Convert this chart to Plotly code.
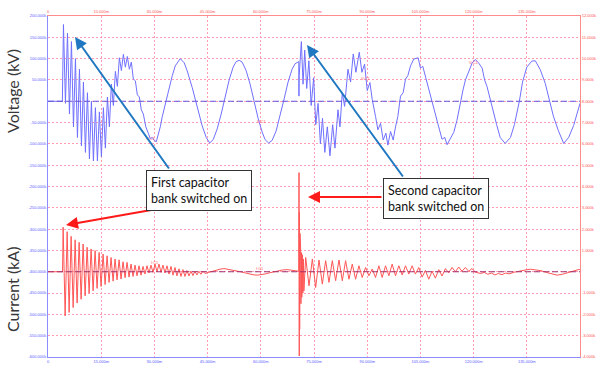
import plotly.graph_objects as go

# ---------------- data (time in ms) ----------------
V_TIME = [
    0.00, 4.05,
    4.36, 4.92, 5.49, 6.05, 6.61, 7.18, 7.74, 8.30, 8.87, 9.43,
    9.99, 10.55, 11.12, 11.68, 12.24, 12.81, 13.37, 13.93, 14.49, 15.06,
    15.62, 16.18, 16.75, 17.31, 17.87, 18.43, 19.00, 19.56, 20.12, 20.69,
    21.25, 21.81, 22.37, 22.94, 23.50, 24.06, 24.63, 25.19, 25.75, 26.31,
    26.88, 27.58, 28.28, 28.85, 29.41, 29.97, 30.53, 31.10, 31.66,
    32.22, 33.07, 34.19, 35.04, 35.88, 36.73, 37.29, 38.41, 39.26, 40.67,
    42.07, 43.48, 44.61, 45.59, 46.58, 47.70, 48.83, 49.95, 51.08, 52.20,
    53.05, 53.89, 54.74, 55.86, 56.99, 58.11, 59.24, 60.37, 61.21, 62.20,
    63.18, 64.31, 65.43, 66.56, 67.69, 68.81, 69.66, 70.70,
    70.76, 70.82, 71.44, 71.91, 72.38, 72.95, 73.55, 74.20, 74.90, 75.50,
    76.15, 76.80, 77.40, 78.05, 78.75, 79.50, 80.26, 80.91, 81.76, 82.32,
    82.97, 83.63, 84.57, 85.32, 86.07, 86.82, 87.76, 88.51, 89.26, 90.01,
    90.76, 91.42, 92.36, 93.01, 93.76, 94.51, 95.26, 95.83, 96.58, 97.33,
    97.99, 98.64, 99.39, 100.14, 100.80, 101.46, 102.21, 103.15,
    104.36, 105.01, 105.67, 106.89, 107.83, 108.77, 110.00, 111.10, 111.90, 112.50,
    113.50, 114.40, 115.30, 116.30, 117.00, 117.70, 118.60, 119.60, 120.50, 121.40,
    122.40, 123.10, 123.80, 124.70, 125.70, 126.50, 127.50, 128.90, 130.40, 131.50,
    132.90, 133.80, 135.00, 136.40, 137.40, 138.80, 140.20, 141.40, 142.50, 143.90,
    145.40, 146.80, 148.20, 150.00,
]
V_KV = [
    0, 0,
    180, -5, 160, -30, 140, -60, 100, -85, 75, -105,
    45, -120, 20, -135, 0, -140, -15, -140, -25, -130,
    -15, -110, 10, -60, 40, -10, 70, 35, 102, 72,
    110, 80, 105, 75, 92, 52, 48, 15, 10, -20,
    -30, -60, -75, -88, -85, -92, -95, -80, -60,
    -36, -5, 28, 60, 83, 95, 100, 90, 71, 32,
    -12, -58, -85, -98, -90, -65, -30, 10, 50, 80,
    93, 96, 92, 72, 40, 0, -40, -72, -90, -98,
    -92, -70, -35, 5, 45, 75, 88, 93,
    12, 60, 140, 40, 120, 30, 95, -10, 55, -55,
    -5, -100, -40, -120, -60, -128, -55, -110, -20, -60,
    20, -12, 75, 45, 111, 68, 115, 68, 87, 25,
    44, 4, -36, -67, -52, -91, -75, -103, -71, -91,
    -60, -36, 12, 20, 52, 60, 83, 99,
    102, 78, 82, 42, 10, -14, -55, -89, -85, -102,
    -85, -73, -45, 2, 26, 50, 70, 90, 98, 90,
    78, 50, 34, 2, -29, -55, -85, -99, -85, -55,
    0, 45, 80, 94, 95, 74, 42, 2, -35, -69,
    -99, -85, -57, -5,
]

I_TIME = [
    0.00, 4.10,
    4.27, 4.83, 5.40, 5.96, 6.52, 7.09, 7.65, 8.21, 8.78, 9.34,
    9.90, 10.47, 11.03, 11.59, 12.15, 12.72, 13.28, 13.84, 14.41, 14.97,
    15.53, 16.10, 16.66, 17.22, 17.78, 18.35, 18.91, 19.47, 20.04, 20.60,
    21.16, 21.73, 22.29, 22.85, 23.41, 23.98, 24.54, 25.10, 25.67, 26.23,
    26.79, 27.36, 27.92, 28.48, 29.04, 29.61, 30.17, 30.73, 31.30, 31.86,
    32.42, 32.99, 33.55, 34.11, 34.67, 35.24, 35.80, 36.36, 36.93, 37.49,
    38.05, 38.62, 39.18, 39.74, 40.30, 40.87, 41.43, 41.99, 42.56, 43.12,
    43.68, 44.25,
    45.50, 47.30, 48.50, 49.60, 50.80, 52.00, 53.20, 54.30, 55.50, 56.60,
    57.80, 59.00, 60.20, 61.30, 62.50, 63.70, 64.90, 66.00, 67.40, 68.60,
    69.70, 70.70,
    70.78, 70.84, 70.90, 70.96, 71.04, 71.12, 71.22, 71.32, 71.44, 71.56,
    71.70, 71.85, 72.00, 72.15,
    72.66, 73.60, 74.54, 75.47, 76.41, 77.35, 78.29, 79.22, 80.16, 81.10,
    82.04, 82.98, 83.91, 84.85, 85.79, 86.73, 87.67, 88.60, 89.54, 90.48,
    91.42, 92.35, 93.29, 94.23, 95.17, 96.11, 97.04, 97.98, 98.92, 99.86,
    100.79, 101.73, 102.67, 103.60, 104.54, 105.48, 106.42, 107.35, 108.30, 109.23,
    110.17, 111.11, 112.05, 112.98, 113.92, 114.86, 115.80, 116.73, 117.67, 118.61,
    119.55, 120.48,
    122.00, 123.00, 124.00, 125.00, 126.00, 127.00, 128.00, 129.00, 130.00, 131.50,
    133.00, 134.50, 136.00, 137.50, 139.00, 140.50, 142.00, 143.50, 145.00, 146.50,
    148.00, 149.50, 150.00,
]
I_KA = [
    0, 0,
    2.09, -2.07, 1.88, -1.91, 1.66, -1.68, 1.50, -1.47, 1.38, -1.29,
    1.30, -1.13, 1.15, -1.00, 1.07, -0.89, 0.99, -0.78, 0.91, -0.69,
    0.83, -0.60, 0.75, -0.50, 0.67, -0.44, 0.60, -0.38, 0.56, -0.34,
    0.47, -0.28, 0.44, -0.25, 0.36, -0.22, 0.31, -0.19, 0.28, -0.16,
    0.25, -0.11, 0.28, -0.06, 0.31, -0.03, 0.36, 0.00, 0.36, -0.03,
    0.31, -0.06, 0.28, -0.11, 0.25, -0.16, 0.20, -0.19, 0.14, -0.22,
    0.10, -0.22, 0.06, -0.20, 0.03, -0.18, 0.02, -0.15, 0.02, -0.12,
    0.03, -0.08,
    -0.02, 0.08, 0.12, 0.15, 0.12, 0.08, 0.03, 0.00, -0.05, -0.10,
    -0.14, -0.16, -0.14, -0.10, -0.05, 0.00, 0.05, 0.08, 0.10, 0.09,
    0.05, 0.02,
    4.65, -3.95, 2.80, -2.70, 1.80, -2.20, 1.20, -1.50, 0.90, -1.20,
    0.80, -1.00, 0.60, -0.90,
    0.67, -0.66, 0.60, -0.74, 0.55, -0.58, 0.52, -0.50, 0.52, -0.42,
    0.55, -0.42, 0.52, -0.35, 0.36, -0.35, 0.28, -0.27, 0.20, -0.19,
    0.13, -0.27, 0.28, -0.27, 0.28, -0.19, 0.36, -0.19, 0.28, -0.15,
    0.28, -0.11, 0.28, -0.11, 0.20, -0.25, 0.06, -0.35, 0.02, -0.30,
    0.10, -0.20, 0.15, -0.05, 0.20, 0.00, 0.22, 0.02, 0.20, 0.02,
    0.15, -0.02,
    -0.08, -0.03, -0.12, -0.06, -0.15, -0.08, -0.14, -0.06, -0.10, -0.02,
    0.04, 0.08, 0.12, 0.10, 0.05, -0.03, -0.10, -0.16, -0.12, -0.05,
    0.05, 0.10, 0.10,
]

X_TICKS = [0, 15, 30, 45, 60, 75, 90, 105, 120, 135, 150]
X_LABELS = ["0", "15.000m", "30.000m", "45.000m", "60.000m", "75.000m",
            "90.000m", "105.000m", "120.000m", "135.000m", ""]
V_TICKS = [200, 150, 100, 50, 0, -50, -100, -150, -200, -250, -300,
           -350, -400, -450, -500, -550, -600]
V_LABELS = ["200.000k", "150.000k", "100.000k", "50.000k", "", "-50.000k",
            "-100.000k", "-150.000k", "-200.000k", "-250.000k", "-300.000k",
            "-350.000k", "-400.000k", "-450.000k", "-500.000k", "-550.000k",
            "-600.000k"]
I_TICKS = [12, 11, 10, 9, 8, 7, 6, 5, 4, 3, 2, 1, 0, -1, -2, -3, -4]
I_LABELS = ["12.000k", "11.000k", "10.000k", "9.000k", "8.000k", "7.000k",
            "6.000k", "5.000k", "4.000k", "3.000k", "2.000k", "1.000k", "",
            "-1.000k", "-2.000k", "-3.000k", "-4.000k"]

assert len(V_TIME) == len(V_KV) and len(I_TIME) == len(I_KA)

# ---------------- geometry helpers (layout only) ----------------
PL, PR, PT, PB = 48, 580, 16, 357


def px(xp, yp):
    t = (xp - PL) / (PR - PL) * 150
    v = 200 - (yp - PT) / (PB - PT) * 800
    return t, v


BLUE_AX = "#8c8cff"
RED_AX = "#ff8c8c"
GRID = "#ff9db4"

fig = go.Figure()
fig.add_trace(go.Scatter(x=V_TIME, y=V_KV, mode="lines",
                         line=dict(color="#7070ff", width=1),
                         xaxis="x", yaxis="y", hoverinfo="skip"))
fig.add_trace(go.Scatter(x=I_TIME, y=I_KA, mode="lines",
                         line=dict(color="#ff5656", width=1),
                         xaxis="x2", yaxis="y2", hoverinfo="skip"))

tick_font_b = dict(family="Liberation Sans", size=4, color="#5a5aff")
tick_font_r = dict(family="Liberation Sans", size=4, color="#ff5050")

fig.update_layout(
    width=600, height=370,
    margin=dict(l=PL, r=600 - PR, t=PT, b=370 - PB, autoexpand=False),
    paper_bgcolor="white", plot_bgcolor="white",
    showlegend=False, hovermode=False,
    xaxis=dict(range=[0, 150], tickvals=X_TICKS, ticktext=X_LABELS,
               showgrid=True, gridcolor=GRID, griddash="2px,2px", gridwidth=1,
               showline=True, linecolor=BLUE_AX, linewidth=1, zeroline=False,
               ticks="", tickfont=tick_font_b, automargin=False),
    xaxis2=dict(range=[0, 150], tickvals=X_TICKS, ticktext=X_LABELS,
                overlaying="x", side="top", anchor="y",
                showgrid=False, showline=True, linecolor=RED_AX, linewidth=1,
                zeroline=False, ticks="", tickfont=tick_font_r, automargin=False),
    yaxis=dict(range=[-600, 200], tickvals=V_TICKS, ticktext=V_LABELS,
               showgrid=True, gridcolor=GRID, griddash="2px,2px", gridwidth=1,
               showline=True, linecolor=BLUE_AX, linewidth=1, zeroline=False,
               ticks="", tickfont=tick_font_b, automargin=False),
    yaxis2=dict(range=[-4, 12], tickvals=I_TICKS, ticktext=I_LABELS,
                overlaying="y", side="right", anchor="x",
                showgrid=False, showline=True, linecolor=RED_AX, linewidth=1,
                zeroline=False, ticks="", tickfont=tick_font_r, automargin=False),
)

# zero reference lines (dashed)
fig.add_shape(type="line", xref="x", yref="y", x0=0, x1=150, y0=0, y1=0,
              line=dict(color="#6655dd", width=1, dash="6px,3px"))
fig.add_shape(type="line", xref="x2", yref="y2", x0=0, x1=150, y0=0, y1=0,
              line=dict(color="#a03070", width=1, dash="6px,3px"))

annotations = []
# axis titles
for (ttl, cy) in [("Voltage (kV)", 91), ("Current (kA)", 290)]:
    annotations.append(dict(text=ttl, xref="paper", yref="paper",
                            x=(12 - PL) / (PR - PL), y=1 - (cy - PT) / (PB - PT),
                            xanchor="center", yanchor="middle",
                            textangle=-90, showarrow=False,
                            font=dict(family="Lato", size=16, color="#383838")))

# small trace labels
for (lx, ly, lt) in [(151, 138, "V:C1"), (262, 121, "V:C1"), (366, 78, "V:C1"),
                     (474, 62, "V:C1"), (155, 262, "I:C1"), (260, 268, "I:C1")]:
    t, v = px(lx, ly)
    annotations.append(dict(text=lt, x=t, y=v, xref="x", yref="y", showarrow=False,
                            font=dict(family="Liberation Sans", size=4, color="#ff6060")))

# arrows
for (tail, head, col) in [((170, 170), (75, 37), "#1f78c1"),
                          ((404, 178), (307, 45), "#1f78c1"),
                          ((157, 209), (66, 225), "#ff1a1a"),
                          ((383, 197), (308, 197), "#ff1a1a")]:
    ht, hv = px(*head)
    tt, tv = px(*tail)
    annotations.append(dict(text="", x=ht, y=hv, ax=tt, ay=tv, xref="x", yref="y",
                            axref="x", ayref="y", showarrow=True, arrowhead=2,
                            arrowsize=1.2, arrowwidth=2, arrowcolor=col))

# text boxes
for (bx, by, txt) in [(146, 170, "First capacitor<br>bank switched on"),
                      (383, 178, "Second capacitor<br>bank switched on")]:
    t, v = px(bx, by)
    annotations.append(dict(text=txt, x=t, y=v, xref="x", yref="y",
                            xanchor="left", yanchor="top", align="left",
                            showarrow=False, bgcolor="white",
                            bordercolor="#333333", borderwidth=1, borderpad=4,
                            font=dict(family="Lato", size=12.5, color="#111111")))

fig.update_layout(annotations=annotations)
fig.write_html("out.html", config={"displayModeBar": False, "staticPlot": True},
               post_script="document.body.style.margin='0px';")
